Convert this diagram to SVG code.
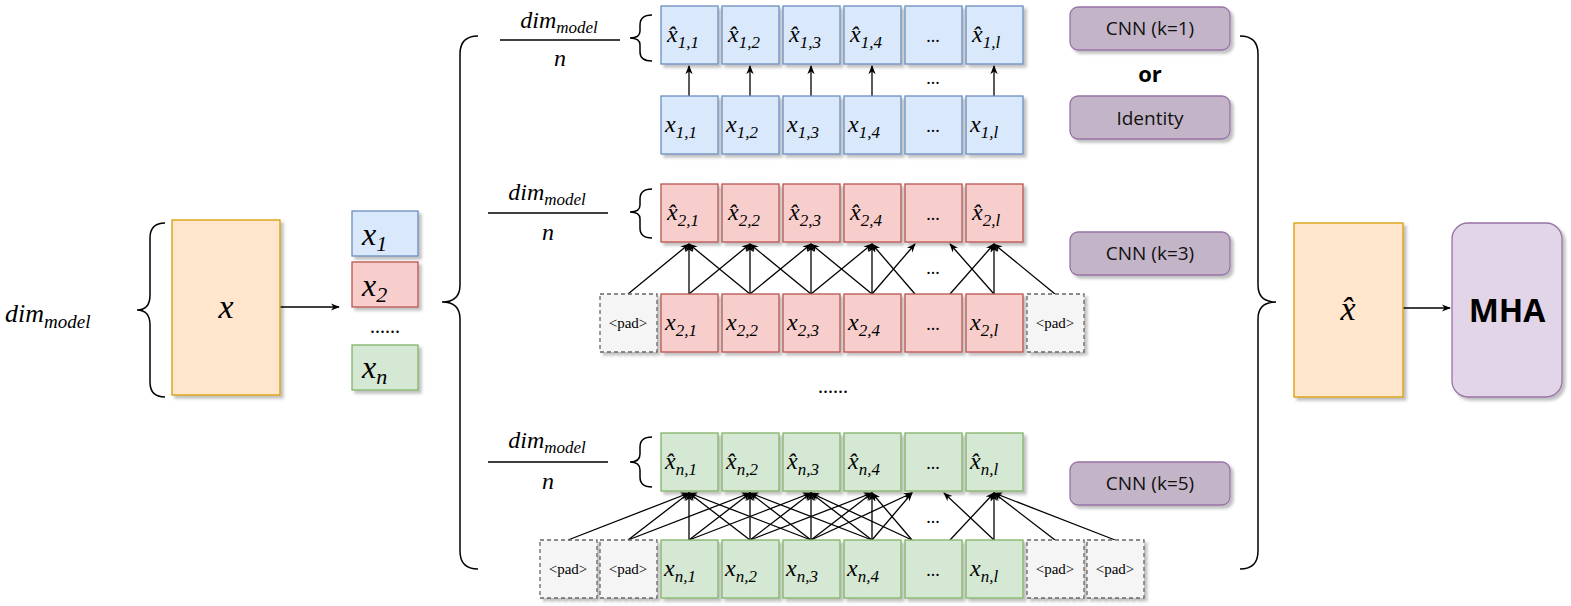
<svg xmlns="http://www.w3.org/2000/svg" width="1571" height="606" viewBox="0 0 1571 606">
<style>
.m{font-family:"Liberation Serif",serif;font-style:italic;fill:#000}
.s{font-family:"Liberation Serif",serif;fill:#000}
.b{fill:#dae8fc;stroke:#6c8ebf;stroke-width:1.3}
.r{fill:#f8cecc;stroke:#b85450;stroke-width:1.3}
.g{fill:#d5e8d4;stroke:#82b366;stroke-width:1.3}
.p{fill:#f5f5f5;stroke:#666;stroke-width:1.3;stroke-dasharray:4 3}
.c{fill:#c3b4c7;stroke:#9673a6;stroke-width:1.3}
.l{font-family:"Open Sans",sans-serif;font-size:19px;fill:#111}
.br{fill:none;stroke:#000;stroke-width:1.5}
.e{stroke:#000;stroke-width:1.3;fill:none;marker-end:url(#a)}
</style>
<defs>
<marker id="a" viewBox="0 0 10 10" refX="9" refY="5" markerWidth="7" markerHeight="7" orient="auto"><path d="M0,1 L10,5 L0,9 L3,5 Z" fill="#000"/></marker>
<filter id="sh" x="-10%" y="-10%" width="130%" height="130%"><feDropShadow dx="3" dy="3" stdDeviation="1.5" flood-color="#000" flood-opacity="0.25"/></filter>
</defs>
<g id="connectors">
<path class="e" d="M280,307 H339"/>
<path class="e" d="M1403,308 H1450"/>
<path class="e" d="M689,96 V66"/><path class="e" d="M750,96 V66"/><path class="e" d="M811,96 V66"/><path class="e" d="M872,96 V66"/><path class="e" d="M994,96 V66"/>
<path class="e" d="M628,294 L689,244"/><path class="e" d="M689,294 L689,244"/><path class="e" d="M750,294 L689,244"/>
<path class="e" d="M689,294 L750,244"/><path class="e" d="M750,294 L750,244"/><path class="e" d="M811,294 L750,244"/>
<path class="e" d="M750,294 L811,244"/><path class="e" d="M811,294 L811,244"/><path class="e" d="M872,294 L811,244"/>
<path class="e" d="M811,294 L872,244"/><path class="e" d="M872,294 L872,244"/><path class="e" d="M915,294 L872,244"/>
<path class="e" d="M872,294 L915,244"/><path class="e" d="M950,294 L994,244"/>
<path class="e" d="M994,294 L994,244"/><path class="e" d="M1055,294 L994,244"/><path class="e" d="M994,294 L950,244"/>
<path class="e" d="M568,540 L689,493"/><path class="e" d="M628,540 L689,493"/><path class="e" d="M689,540 L689,493"/><path class="e" d="M750,540 L689,493"/><path class="e" d="M811,540 L689,493"/>
<path class="e" d="M628,540 L750,493"/><path class="e" d="M689,540 L750,493"/><path class="e" d="M750,540 L750,493"/><path class="e" d="M811,540 L750,493"/><path class="e" d="M872,540 L750,493"/>
<path class="e" d="M689,540 L811,493"/><path class="e" d="M750,540 L811,493"/><path class="e" d="M811,540 L811,493"/><path class="e" d="M872,540 L811,493"/><path class="e" d="M912,540 L811,493"/>
<path class="e" d="M750,540 L872,493"/><path class="e" d="M811,540 L872,493"/><path class="e" d="M872,540 L872,493"/><path class="e" d="M912,540 L872,493"/>
<path class="e" d="M811,540 L912,493"/><path class="e" d="M872,540 L912,493"/>
<path class="e" d="M994,540 L944,493"/><path class="e" d="M950,540 L994,493"/>
<path class="e" d="M994,540 L994,493"/><path class="e" d="M1055,540 L994,493"/><path class="e" d="M1115,540 L994,493"/>
</g>
<g id="left">
<path class="br" d="M165,223 Q150,223 150,238 V295 Q150,310 137,310 Q150,310 150,325 V382 Q150,397 165,397"/>
<text class="m" x="5" y="322" font-size="26">dim<tspan font-size="19" dy="6">model</tspan></text>
<rect x="172" y="220" width="108" height="175" fill="#ffe6cc" stroke="#d79b00" stroke-width="1.3" filter="url(#sh)"/>
<text class="m" x="226" y="318" font-size="34" text-anchor="middle">x</text>
<rect class="b" x="352" y="211" width="66" height="45" filter="url(#sh)"/>
<text class="m" x="362" y="245" font-size="32">x<tspan class="s" font-size="22" dy="6">1</tspan></text>
<rect class="r" x="352" y="262" width="66" height="45" filter="url(#sh)"/>
<text class="m" x="362" y="296" font-size="32">x<tspan class="s" font-size="22" dy="6">2</tspan></text>
<text class="s" x="385" y="333" font-size="20" text-anchor="middle">......</text>
<rect class="g" x="352" y="345" width="66" height="45" filter="url(#sh)"/>
<text class="m" x="362" y="378" font-size="32">x<tspan font-size="22" dy="6">n</tspan></text>
<path class="br" d="M478,36 Q460,36 460,54 V285 Q460,302 442,302 Q460,302 460,319 V551 Q460,569 478,569"/>
</g>
<g id="fractions">
<text class="m" x="559" y="28" font-size="24" text-anchor="middle">dim<tspan font-size="17" dy="5">model</tspan></text>
<path d="M500,40 H620" stroke="#000" stroke-width="1.5"/>
<text class="m" x="560" y="66" font-size="24" text-anchor="middle">n</text>
<path class="br" d="M652,15 Q640,15 640,25 V31 Q640,38 630,38 Q640,38 640,45 V52 Q640,61 652,61"/>
<text class="m" x="547" y="200" font-size="24" text-anchor="middle">dim<tspan font-size="17" dy="5">model</tspan></text>
<path d="M488,213 H608" stroke="#000" stroke-width="1.5"/>
<text class="m" x="548" y="240" font-size="24" text-anchor="middle">n</text>
<path class="br" d="M652,189 Q640,189 640,199 V205 Q640,212 630,212 Q640,212 640,219 V228 Q640,238 652,238"/>
<text class="m" x="547" y="448" font-size="24" text-anchor="middle">dim<tspan font-size="17" dy="5">model</tspan></text>
<path d="M488,462 H608" stroke="#000" stroke-width="1.5"/>
<text class="m" x="548" y="489" font-size="24" text-anchor="middle">n</text>
<path class="br" d="M652,437 Q640,437 640,447 V454 Q640,462 630,462 Q640,462 640,470 V477 Q640,487 652,487"/>
</g>
<g id="row1">
<rect class="b" x="661" y="6" width="57" height="58" filter="url(#sh)"/><text class="m" x="667" y="42" font-size="24">x̂<tspan class="s" font-size="17" dy="6">1,1</tspan></text>
<rect class="b" x="722" y="6" width="57" height="58" filter="url(#sh)"/><text class="m" x="728" y="42" font-size="24">x̂<tspan class="s" font-size="17" dy="6">1,2</tspan></text>
<rect class="b" x="783" y="6" width="57" height="58" filter="url(#sh)"/><text class="m" x="789" y="42" font-size="24">x̂<tspan class="s" font-size="17" dy="6">1,3</tspan></text>
<rect class="b" x="844" y="6" width="57" height="58" filter="url(#sh)"/><text class="m" x="850" y="42" font-size="24">x̂<tspan class="s" font-size="17" dy="6">1,4</tspan></text>
<rect class="b" x="905" y="6" width="57" height="58" filter="url(#sh)"/><text class="s" x="933" y="42" font-size="18" text-anchor="middle">...</text>
<rect class="b" x="966" y="6" width="57" height="58" filter="url(#sh)"/><text class="m" x="972" y="42" font-size="24">x̂<tspan font-size="17" dy="6"><tspan class="s">1,</tspan>l</tspan></text>
<text class="s" x="933" y="84" font-size="18" text-anchor="middle">...</text>
<rect class="b" x="661" y="96" width="57" height="58" filter="url(#sh)"/><text class="m" x="665" y="132" font-size="24">x<tspan class="s" font-size="17" dy="6">1,1</tspan></text>
<rect class="b" x="722" y="96" width="57" height="58" filter="url(#sh)"/><text class="m" x="726" y="132" font-size="24">x<tspan class="s" font-size="17" dy="6">1,2</tspan></text>
<rect class="b" x="783" y="96" width="57" height="58" filter="url(#sh)"/><text class="m" x="787" y="132" font-size="24">x<tspan class="s" font-size="17" dy="6">1,3</tspan></text>
<rect class="b" x="844" y="96" width="57" height="58" filter="url(#sh)"/><text class="m" x="848" y="132" font-size="24">x<tspan class="s" font-size="17" dy="6">1,4</tspan></text>
<rect class="b" x="905" y="96" width="57" height="58" filter="url(#sh)"/><text class="s" x="933" y="132" font-size="18" text-anchor="middle">...</text>
<rect class="b" x="966" y="96" width="57" height="58" filter="url(#sh)"/><text class="m" x="970" y="132" font-size="24">x<tspan font-size="17" dy="6"><tspan class="s">1,</tspan>l</tspan></text>
</g>
<g id="row2">
<rect class="r" x="661" y="184" width="57" height="58" filter="url(#sh)"/><text class="m" x="667" y="220" font-size="24">x̂<tspan class="s" font-size="17" dy="6">2,1</tspan></text>
<rect class="r" x="722" y="184" width="57" height="58" filter="url(#sh)"/><text class="m" x="728" y="220" font-size="24">x̂<tspan class="s" font-size="17" dy="6">2,2</tspan></text>
<rect class="r" x="783" y="184" width="57" height="58" filter="url(#sh)"/><text class="m" x="789" y="220" font-size="24">x̂<tspan class="s" font-size="17" dy="6">2,3</tspan></text>
<rect class="r" x="844" y="184" width="57" height="58" filter="url(#sh)"/><text class="m" x="850" y="220" font-size="24">x̂<tspan class="s" font-size="17" dy="6">2,4</tspan></text>
<rect class="r" x="905" y="184" width="57" height="58" filter="url(#sh)"/><text class="s" x="933" y="220" font-size="18" text-anchor="middle">...</text>
<rect class="r" x="966" y="184" width="57" height="58" filter="url(#sh)"/><text class="m" x="972" y="220" font-size="24">x̂<tspan font-size="17" dy="6"><tspan class="s">2,</tspan>l</tspan></text>
<text class="s" x="933" y="274" font-size="18" text-anchor="middle">...</text>
<rect class="p" x="600" y="294" width="57" height="58" filter="url(#sh)"/><text class="s" x="628" y="328" font-size="15" text-anchor="middle">&lt;pad&gt;</text>
<rect class="r" x="661" y="294" width="57" height="58" filter="url(#sh)"/><text class="m" x="665" y="330" font-size="24">x<tspan class="s" font-size="17" dy="6">2,1</tspan></text>
<rect class="r" x="722" y="294" width="57" height="58" filter="url(#sh)"/><text class="m" x="726" y="330" font-size="24">x<tspan class="s" font-size="17" dy="6">2,2</tspan></text>
<rect class="r" x="783" y="294" width="57" height="58" filter="url(#sh)"/><text class="m" x="787" y="330" font-size="24">x<tspan class="s" font-size="17" dy="6">2,3</tspan></text>
<rect class="r" x="844" y="294" width="57" height="58" filter="url(#sh)"/><text class="m" x="848" y="330" font-size="24">x<tspan class="s" font-size="17" dy="6">2,4</tspan></text>
<rect class="r" x="905" y="294" width="57" height="58" filter="url(#sh)"/><text class="s" x="933" y="330" font-size="18" text-anchor="middle">...</text>
<rect class="r" x="966" y="294" width="57" height="58" filter="url(#sh)"/><text class="m" x="970" y="330" font-size="24">x<tspan font-size="17" dy="6"><tspan class="s">2,</tspan>l</tspan></text>
<rect class="p" x="1027" y="294" width="57" height="58" filter="url(#sh)"/><text class="s" x="1055" y="328" font-size="15" text-anchor="middle">&lt;pad&gt;</text>
</g>
<text class="s" x="833" y="393" font-size="20" text-anchor="middle">......</text>
<g id="rown">
<rect class="g" x="661" y="433" width="57" height="58" filter="url(#sh)"/><text class="m" x="665" y="469" font-size="24">x̂<tspan font-size="17" dy="6">n<tspan class="s">,1</tspan></tspan></text>
<rect class="g" x="722" y="433" width="57" height="58" filter="url(#sh)"/><text class="m" x="726" y="469" font-size="24">x̂<tspan font-size="17" dy="6">n<tspan class="s">,2</tspan></tspan></text>
<rect class="g" x="783" y="433" width="57" height="58" filter="url(#sh)"/><text class="m" x="787" y="469" font-size="24">x̂<tspan font-size="17" dy="6">n<tspan class="s">,3</tspan></tspan></text>
<rect class="g" x="844" y="433" width="57" height="58" filter="url(#sh)"/><text class="m" x="848" y="469" font-size="24">x̂<tspan font-size="17" dy="6">n<tspan class="s">,4</tspan></tspan></text>
<rect class="g" x="905" y="433" width="57" height="58" filter="url(#sh)"/><text class="s" x="933" y="469" font-size="18" text-anchor="middle">...</text>
<rect class="g" x="966" y="433" width="57" height="58" filter="url(#sh)"/><text class="m" x="970" y="469" font-size="24">x̂<tspan font-size="17" dy="6">n<tspan class="s">,</tspan>l</tspan></text>
<text class="s" x="933" y="523" font-size="18" text-anchor="middle">...</text>
<rect class="p" x="540" y="540" width="57" height="58" filter="url(#sh)"/><text class="s" x="568" y="574" font-size="15" text-anchor="middle">&lt;pad&gt;</text>
<rect class="p" x="600" y="540" width="57" height="58" filter="url(#sh)"/><text class="s" x="628" y="574" font-size="15" text-anchor="middle">&lt;pad&gt;</text>
<rect class="g" x="661" y="540" width="57" height="58" filter="url(#sh)"/><text class="m" x="664" y="576" font-size="24">x<tspan font-size="17" dy="6">n<tspan class="s">,1</tspan></tspan></text>
<rect class="g" x="722" y="540" width="57" height="58" filter="url(#sh)"/><text class="m" x="725" y="576" font-size="24">x<tspan font-size="17" dy="6">n<tspan class="s">,2</tspan></tspan></text>
<rect class="g" x="783" y="540" width="57" height="58" filter="url(#sh)"/><text class="m" x="786" y="576" font-size="24">x<tspan font-size="17" dy="6">n<tspan class="s">,3</tspan></tspan></text>
<rect class="g" x="844" y="540" width="57" height="58" filter="url(#sh)"/><text class="m" x="847" y="576" font-size="24">x<tspan font-size="17" dy="6">n<tspan class="s">,4</tspan></tspan></text>
<rect class="g" x="905" y="540" width="57" height="58" filter="url(#sh)"/><text class="s" x="933" y="576" font-size="18" text-anchor="middle">...</text>
<rect class="g" x="966" y="540" width="57" height="58" filter="url(#sh)"/><text class="m" x="970" y="576" font-size="24">x<tspan font-size="17" dy="6">n<tspan class="s">,</tspan>l</tspan></text>
<rect class="p" x="1027" y="540" width="57" height="58" filter="url(#sh)"/><text class="s" x="1055" y="574" font-size="15" text-anchor="middle">&lt;pad&gt;</text>
<rect class="p" x="1087" y="540" width="57" height="58" filter="url(#sh)"/><text class="s" x="1115" y="574" font-size="15" text-anchor="middle">&lt;pad&gt;</text>
</g>
<g id="labels">
<rect class="c" x="1070" y="7" width="160" height="43" rx="8" filter="url(#sh)"/><text class="l" x="1150" y="35" text-anchor="middle">CNN (k=1)</text>
<text x="1150" y="82" font-family="'Open Sans',sans-serif" font-weight="bold" font-size="22" text-anchor="middle">or</text>
<rect class="c" x="1070" y="96" width="160" height="43" rx="8" filter="url(#sh)"/><text class="l" x="1150" y="125" text-anchor="middle">Identity</text>
<rect class="c" x="1070" y="232" width="160" height="43" rx="8" filter="url(#sh)"/><text class="l" x="1150" y="260" text-anchor="middle">CNN (k=3)</text>
<rect class="c" x="1070" y="462" width="160" height="43" rx="8" filter="url(#sh)"/><text class="l" x="1150" y="490" text-anchor="middle">CNN (k=5)</text>
</g>
<g id="right">
<path class="br" d="M1240,36 Q1258,36 1258,54 V285 Q1258,302 1276,302 Q1258,302 1258,319 V551 Q1258,569 1240,569"/>
<rect x="1294" y="223" width="109" height="174" fill="#ffe6cc" stroke="#d79b00" stroke-width="1.3" filter="url(#sh)"/>
<text class="m" x="1348" y="320" font-size="34" text-anchor="middle">x̂</text>
<rect x="1452" y="223" width="110" height="174" rx="16" fill="#e1d5e7" stroke="#9673a6" stroke-width="1.3" filter="url(#sh)"/>
<text x="1507" y="322" font-family="'Open Sans',sans-serif" font-weight="bold" font-size="32" text-anchor="middle">MHA</text>
</g>
</svg>
